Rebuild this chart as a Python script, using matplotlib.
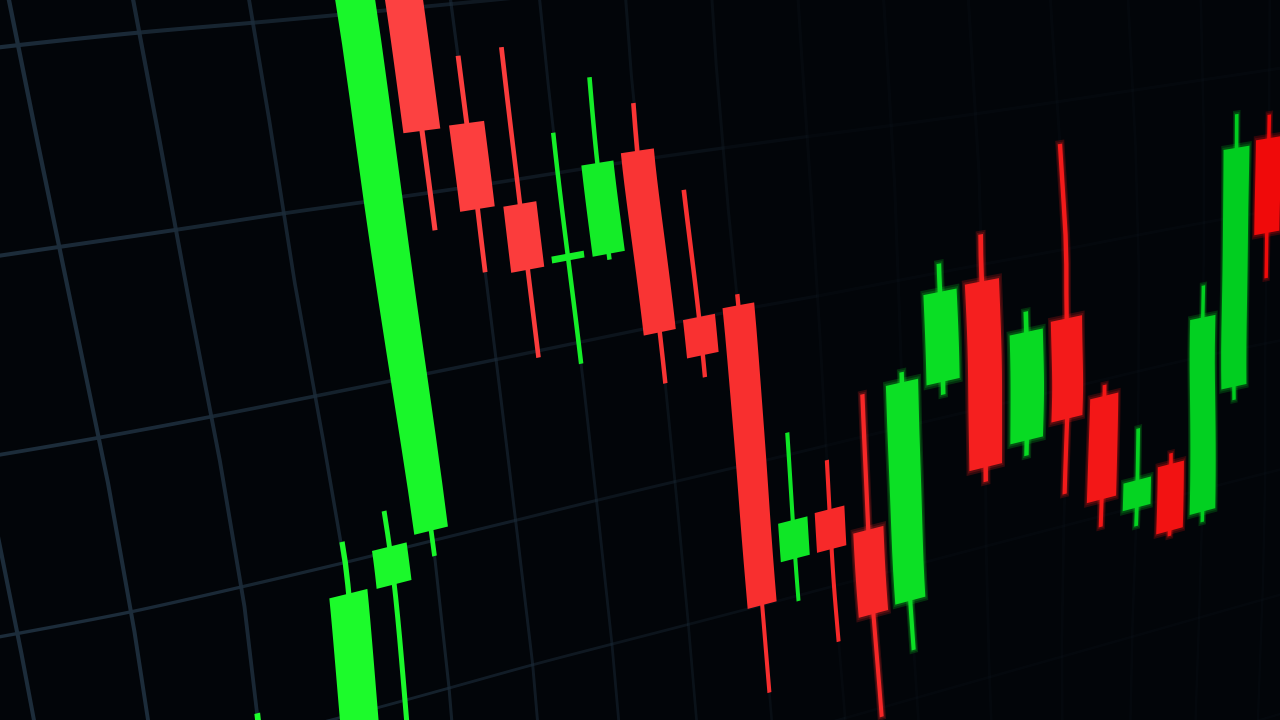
import numpy as np
import matplotlib
matplotlib.use("Agg")
import matplotlib.pyplot as plt
import matplotlib.transforms as mtransforms
from matplotlib.path import Path
from matplotlib.colors import to_rgb

# candle data: time index, open, high, low, close (grid every 2 bars / 10 price units)
TIMES = [2, 4, 5, 6, 7, 8, 9, 10, 11, 12, 13, 14, 15, 16, 17,
         18, 19, 20, 21, 22, 23, 24, 25, 26, 27, 28]
OPEN = [105.0, 107.0, 117.85, 120.65, 153.5, 143.5, 138.6, 134.9, 134.85, 140.55,
        130.05, 130.3, 112.7, 115.55, 113.4, 107.45, 122.5, 128.85, 116.95, 125.05,
        118.8, 109.95, 112.55, 108.3, 117.2, 135.25]
HIGH = [111.7, 121.3, 122.55, 155.0, 154.5, 147.2, 147.4, 142.3, 145.15, 143.35,
        137.85, 131.0, 121.5, 119.0, 122.9, 123.8, 130.6, 132.05, 126.15, 137.2,
        119.6, 115.8, 113.35, 125.35, 137.3, 136.9]
LOW = [103.0, 105.0, 106.0, 119.0, 137.9, 135.1, 129.6, 128.7, 134.5, 126.4,
       126.25, 103.5, 109.6, 105.85, 99.3, 103.7, 121.6, 114.7, 115.85, 112.35,
       109.2, 108.55, 107.1, 107.5, 116.2, 125.0]
CLOSE = [109.5, 118.0, 120.3, 154.0, 143.4, 138.7, 134.8, 135.3, 140.2, 129.6,
         127.65, 110.0, 115.45, 112.7, 107.2, 123.1, 128.7, 115.75, 124.7, 117.8,
         111.25, 112.0, 107.5, 122.95, 134.95, 128.4]

GRID_T = np.arange(-2, 31, 2)
GRID_P = np.arange(90, 171, 10)

# camera view: grid cell (column, row) -> photo pixel
CAL_GRID = [(0, 0), (1, 0), (2, 0), (3, 0), (0, 1), (1, 1), (2, 1),
            (0, 3), (1, 3), (2, 3), (3, 3), (0, 4), (4, 1), (4, 3), (4, 4),
            (6, 1), (6, 2), (7, 2), (7, 3), (7, 4), (8, 1), (8, 2), (8, 4),
            (9, 0), (9, 3), (9, 4), (10, 2), (10, 3), (11, 2), (11, 3),
            (12, 1), (12, 3), (12, 4), (13, 3), (14, 2)]
CAL_PHOTO = [(17, 45), (140, 32), (255, 23), (358, 13), (58, 247), (177, 230), (282, 213),
             (131, 613), (241, 587), (349, 562), (431, 541), (154, 763), (476, 186),
             (515, 521), (533, 664), (636, 160), (659, 326), (740, 309), (752, 464),
             (763, 605), (808, 136), (817, 297), (833, 586), (880, -35), (902, 427),
             (907, 567), (977, 265), (983, 408), (1071, 249), (1073, 387),
             (1134, 90), (1138, 371), (1138, 507), (1200, 356), (1266, 212)]

BG = '#020509'
GRID_COLOR = '#1c2c3a'
NEAR_GREEN, FAR_GREEN = '#1eff2c', '#00cc20'
NEAR_RED, FAR_RED = '#ff4e4e', '#f00a0a'


def _homog(H, v):
    w = v @ H[:, :2].T + H[:, 2]
    return w[:, :2] / w[:, 2:3]


def _tps_kernel(a, b):
    d = np.sqrt(((a[:, None, :] - b[None, :, :]) ** 2).sum(-1))
    with np.errstate(divide='ignore', invalid='ignore'):
        k = d ** 2 * np.log(d)
    return np.nan_to_num(k)


class ScreenView(mtransforms.Transform):
    """Perspective (homography) plus a smooth lens bend (thin-plate spline)."""
    input_dims = 2
    output_dims = 2
    is_separable = False

    def __init__(self, H, nodes, W, A):
        super().__init__()
        self.H, self.nodes, self.W, self.A = H, nodes, W, A

    def transform_non_affine(self, values):
        v = np.asarray(values, float).reshape(-1, 2)
        p = _homog(self.H, v)
        q = p / 1000.0
        bend = _tps_kernel(q, self.nodes) @ self.W
        bend += np.column_stack([np.ones(len(q)), q]) @ self.A
        return p + 1000.0 * bend

    def transform_path_non_affine(self, path):
        ip = path.interpolated(12)
        return Path(self.transform_non_affine(ip.vertices), ip.codes)


def fit_view(src, dst, smooth=1e-2):
    src = np.asarray(src, float)
    dst = np.asarray(dst, float)
    rows = []
    for (u, v), (x, y) in zip(src, dst / 1000):
        rows.append([u, v, 1, 0, 0, 0, -x * u, -x * v, -x])
        rows.append([0, 0, 0, u, v, 1, -y * u, -y * v, -y])
    _, _, vt = np.linalg.svd(np.array(rows, float))
    H = np.diag([1000, 1000, 1]) @ vt[-1].reshape(3, 3)
    q = _homog(H, src) / 1000.0
    res = dst / 1000.0 - q
    n = len(q)
    P = np.column_stack([np.ones(n), q])
    M = np.zeros((n + 3, n + 3))
    M[:n, :n] = _tps_kernel(q, q) + smooth * np.eye(n)
    M[:n, n:] = P
    M[n:, :n] = P.T
    rhs = np.vstack([res, np.zeros((3, 2))])
    sol = np.linalg.solve(M, rhs)
    return ScreenView(H, q, sol[:n], sol[n:])


def mix(c1, c2, f):
    a, b = np.array(to_rgb(c1)), np.array(to_rgb(c2))
    return tuple(a + (b - a) * f)


def fade(t):
    # grid gets fainter further into the screen
    return float(np.clip(1 - 0.11 * (t / 2), 0.1, 1.0))


fig = plt.figure(figsize=(12.8, 7.2), dpi=100, facecolor=BG)
ax = fig.add_axes([0, 0, 1, 1])
ax.set_facecolor(BG)

view = fit_view(CAL_GRID, CAL_PHOTO)
# (time, price) -> (column, row): 2 bars per column, 10 price units per row
to_grid = mtransforms.Affine2D().scale(0.5, -0.1).translate(0, 15)
tr = to_grid + view + ax.transData

# grid
t_lo, t_hi = GRID_T.min() - 2, GRID_T.max() + 2
p_lo, p_hi = 75, 180
for t in GRID_T:
    ax.bar(t, p_hi - p_lo, bottom=p_lo, width=0.07, color=GRID_COLOR,
           alpha=fade(t), transform=tr, zorder=1)
for p in GRID_P:
    for t in np.arange(t_lo, t_hi, 2):
        ax.barh(p, 2, left=t, height=0.2, color=GRID_COLOR,
                alpha=fade(t + 1), transform=tr, zorder=1)

# candles
t_arr = np.array(TIMES, float)
o, h, l, c = map(np.array, (OPEN, HIGH, LOW, CLOSE))
depth = (t_arr - t_arr.min()) / (t_arr.max() - t_arr.min())
colors = [mix(NEAR_GREEN, FAR_GREEN, f) if cl >= op else mix(NEAR_RED, FAR_RED, f)
          for op, cl, f in zip(o, c, depth)]

# soft halo on the far (out of focus) candles
for ti, op, hi, lo, cl, col, f in zip(t_arr, o, h, l, c, colors, depth):
    if f < 0.55:
        continue
    for k in (1, 2):
        ax.bar(ti, hi - lo + 0.25 * k, bottom=lo - 0.125 * k, width=0.11 + 0.06 * k,
               color=col, alpha=0.2, transform=tr, zorder=2, linewidth=0)
        ax.bar(ti, abs(cl - op) + 0.3 * k, bottom=min(op, cl) - 0.15 * k,
               width=0.8 + 0.07 * k, color=col, alpha=0.2, transform=tr,
               zorder=2, linewidth=0)

ax.bar(t_arr, h - l, bottom=l, width=0.11, color=colors, transform=tr, zorder=3)
ax.bar(t_arr, np.abs(c - o), bottom=np.minimum(o, c), width=0.8,
       color=colors, transform=tr, zorder=4)

ax.set_xlim(0, 1280)
ax.set_ylim(720, 0)
ax.set_autoscale_on(False)
ax.axis('off')

fig.savefig('out.png', dpi=100, facecolor=BG)
